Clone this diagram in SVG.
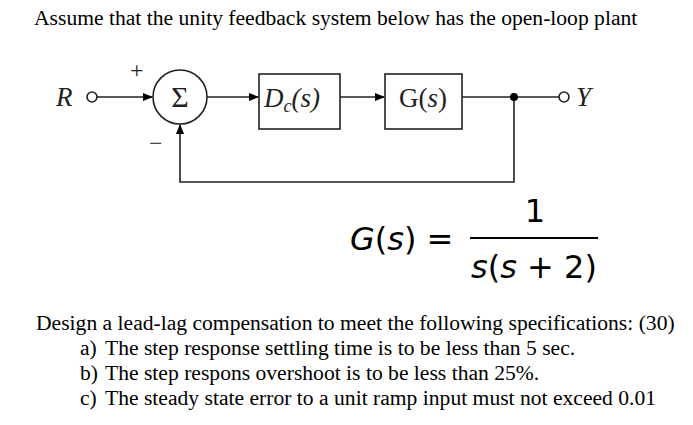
<svg xmlns="http://www.w3.org/2000/svg" width="693" height="425" viewBox="0 0 693 425">
<defs><marker id="ah" markerWidth="10" markerHeight="8" refX="9" refY="4" orient="auto" markerUnits="userSpaceOnUse"><path d="M0,0 L10,4 L0,8 Z" fill="#000"/></marker>
<style>
.t{font-family:"Liberation Serif",serif;font-size:21.6px;fill:#000}
.bl{font-family:"Liberation Serif",serif;font-size:27px;fill:#222}
.ln{stroke:#222;stroke-width:1.6;fill:none}
.m{font-family:"DejaVu Sans","Noto Sans",sans-serif;font-size:32px;fill:#000}
</style></defs>
<rect width="693" height="425" fill="#fff"/>
<text class="t" x="34" y="25">Assume that the unity feedback system below has the open-loop plant</text>
<g id="conn">
<line class="ln" x1="97" y1="97" x2="152" y2="97" marker-end="url(#ah)"/>
<line class="ln" x1="207" y1="97" x2="258" y2="97" marker-end="url(#ah)"/>
<line class="ln" x1="340" y1="97" x2="384" y2="97" marker-end="url(#ah)"/>
<line class="ln" x1="462" y1="97" x2="559" y2="97"/>
<polyline class="ln" points="514,97 514,182 180,182 180,125" marker-end="url(#ah)"/>
<circle cx="514" cy="97" r="4" fill="#000"/>
</g>
<g id="R"><text class="bl" x="56" y="106" font-style="italic">R</text><circle class="ln" cx="92" cy="97" r="5" fill="#fff"/></g>
<g id="sum"><circle class="ln" cx="180" cy="97" r="27"/><text class="bl" x="180" y="107" text-anchor="middle" style="font-size:30px">Σ</text>
<text class="bl" x="130" y="78" style="font-size:24px">+</text><text class="bl" x="149" y="151" style="font-size:24px">−</text></g>
<g id="Dc"><rect class="ln" x="259" y="74" width="81" height="55"/><text class="bl" x="264" y="107" font-style="italic">D<tspan style="font-size:18px" dy="5">c</tspan><tspan dy="-5">(s)</tspan></text></g>
<g id="G"><rect class="ln" x="385" y="74" width="77" height="55"/><text class="bl" x="423" y="107" text-anchor="middle">G(<tspan font-style="italic">s</tspan>)</text></g>
<g id="Y"><circle class="ln" cx="564" cy="97" r="5" fill="#fff"/><text class="bl" x="576" y="106" font-style="italic">Y</text></g>
<g id="eq">
<text class="m" x="350" y="250" font-style="italic">G<tspan font-style="normal">(</tspan>s<tspan font-style="normal">) =</tspan></text>
<text class="m" x="535" y="222" text-anchor="middle">1</text>
<line x1="470" y1="238" x2="598" y2="238" stroke="#000" stroke-width="1.8"/>
<text class="m" x="534" y="278" text-anchor="middle"><tspan font-style="italic">s</tspan>(<tspan font-style="italic">s</tspan> + 2)</text>
</g>
<text class="t" x="36" y="330">Design a lead-lag compensation to meet the following specifications: (30)</text>
<text class="t" x="80" y="355">a)</text><text class="t" x="105" y="355">The step response settling time is to be less than 5 sec.</text>
<text class="t" x="80" y="380">b)</text><text class="t" x="105" y="380">The step respons overshoot is to be less than 25%.</text>
<text class="t" x="80" y="405">c)</text><text class="t" x="105" y="405">The steady state error to a unit ramp input must not exceed 0.01</text>
</svg>
